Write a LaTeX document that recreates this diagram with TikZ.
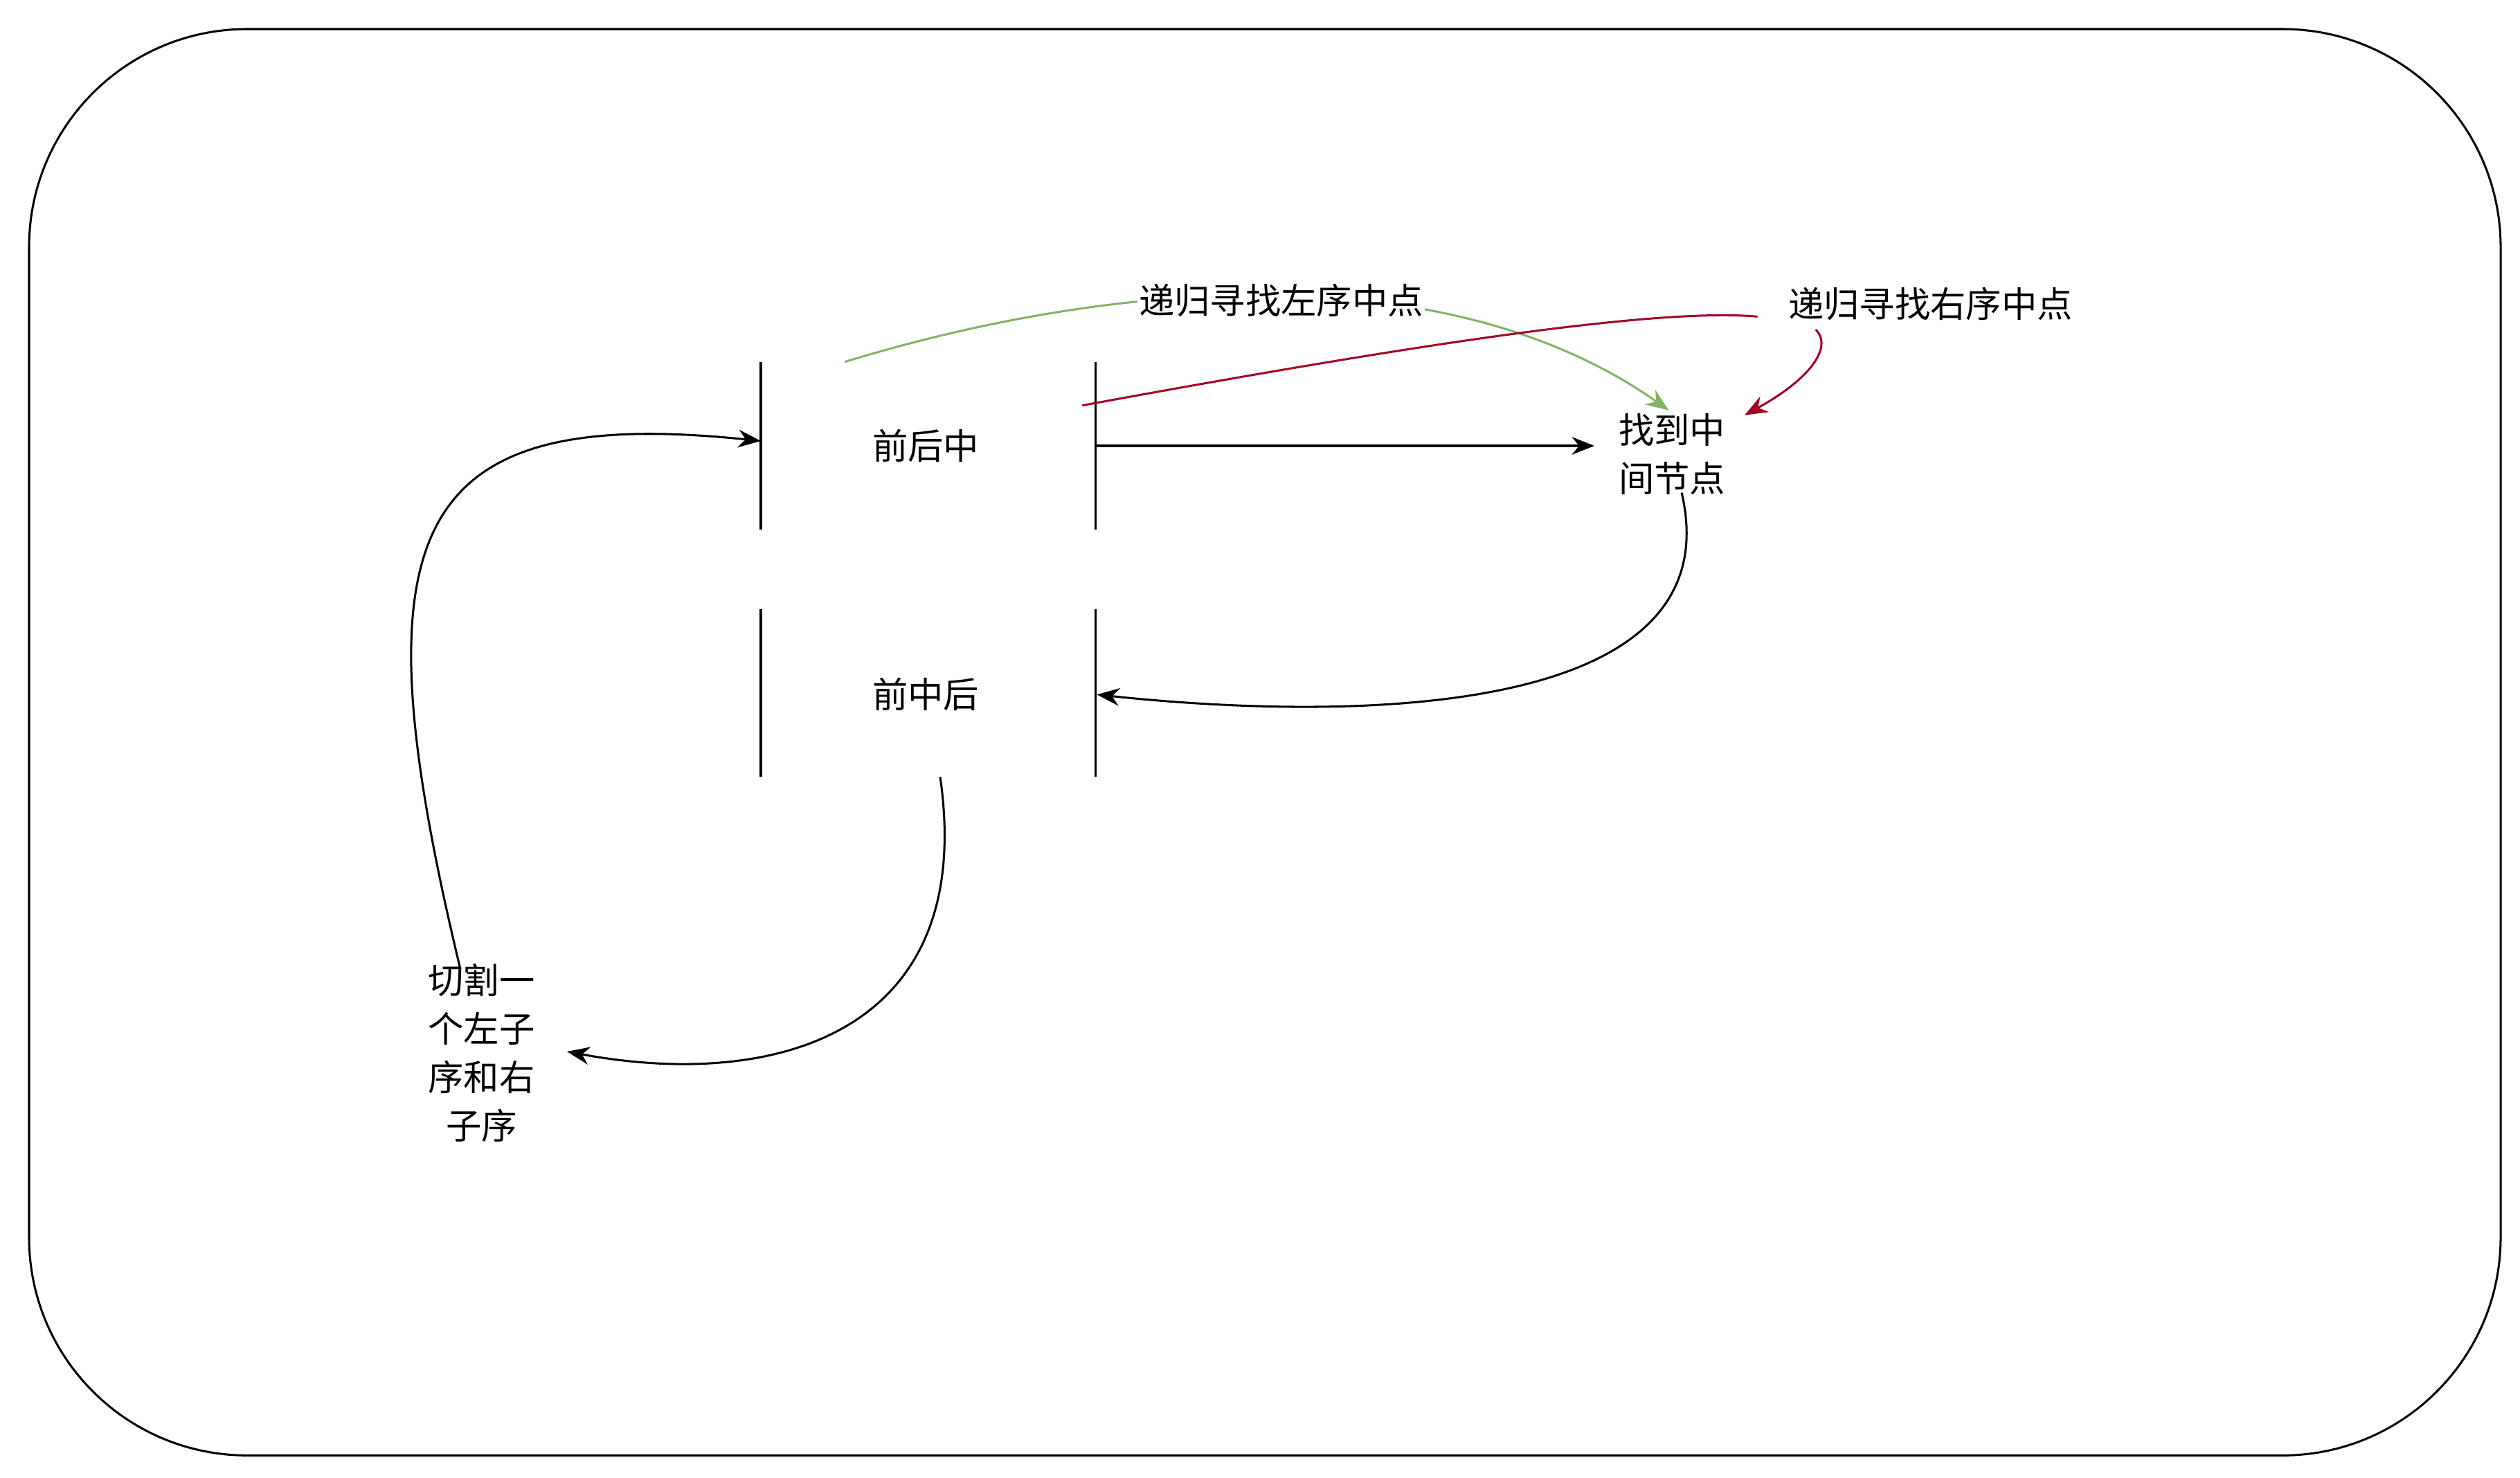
\documentclass[tikz,border=0pt]{standalone}
\usepackage{fontspec}
\setmainfont{Noto Sans CJK SC}
\usetikzlibrary{arrows.meta}
\definecolor{gr}{HTML}{82B366}
\definecolor{rd}{HTML}{A20025}
\tikzset{lbl/.style={font=\fontsize{22}{30}\selectfont,align=center,inner sep=1pt},
 arr/.style={-{Stealth[length=14pt,width=11pt]},line width=1.3pt},
 bar/.style={line width=1.3pt}}
\begin{document}
\begin{tikzpicture}[x=1pt,y=-1pt]
\useasboundingbox (0,0) rectangle (1560,915);
\draw[line width=1.3pt,rounded corners=135pt] (18,18) rectangle (1548,901);
\draw[bar] (471,224) -- (471,328) (678,224) -- (678,328);
\draw[bar] (471,377) -- (471,481) (678,377) -- (678,481);
\node[lbl] (a) at (573,276) {前后中};
\node[lbl] (b) at (573,430) {前中后};
\node[lbl] (c) at (1035,281) {找到中\\间节点};
\node[lbl] (d) at (298,652) {切割一\\个左子\\序和右\\子序};
\coordinate (a1) at (678,276);
\coordinate (a2) at (987,276);
\draw[arr] (a1) -- (a2);
\coordinate (c1) at (1041,305);
\coordinate (b1) at (679,430);
\draw[arr] (c1) .. controls (1075,450) and (820,445) .. (b1);
\coordinate (b2) at (582,481);
\coordinate (d1) at (351,651);
\draw[arr] (b2) .. controls (605,640) and (480,675) .. (d1);
\coordinate (d2) at (285,600);
\coordinate (a3) at (471,273);
\draw[arr] (d2) .. controls (220,330) and (250,250) .. (a3);
\coordinate (g1) at (523,224);
\coordinate (g2) at (1033,254);
\coordinate (r1) at (670,251);
\coordinate (r2) at (1080,257);
\draw[gr,line width=1.3pt,-{Stealth[length=14pt,width=11pt]}] (g1) .. controls (700,170) and (900,160) .. (g2);
\node[lbl,fill=white] (gl) at (793,186) {递归寻找左序中点};
\draw[rd,line width=1.3pt] (r1) .. controls (850,218) and (1020,190) .. (1088,196);
\node[lbl] (rl) at (1195,188) {递归寻找右序中点};
\draw[rd,line width=1.3pt,-{Stealth[length=14pt,width=11pt]}] (1124,204) .. controls (1135,215) and (1120,235) .. (r2);
\end{tikzpicture}
\end{document}
